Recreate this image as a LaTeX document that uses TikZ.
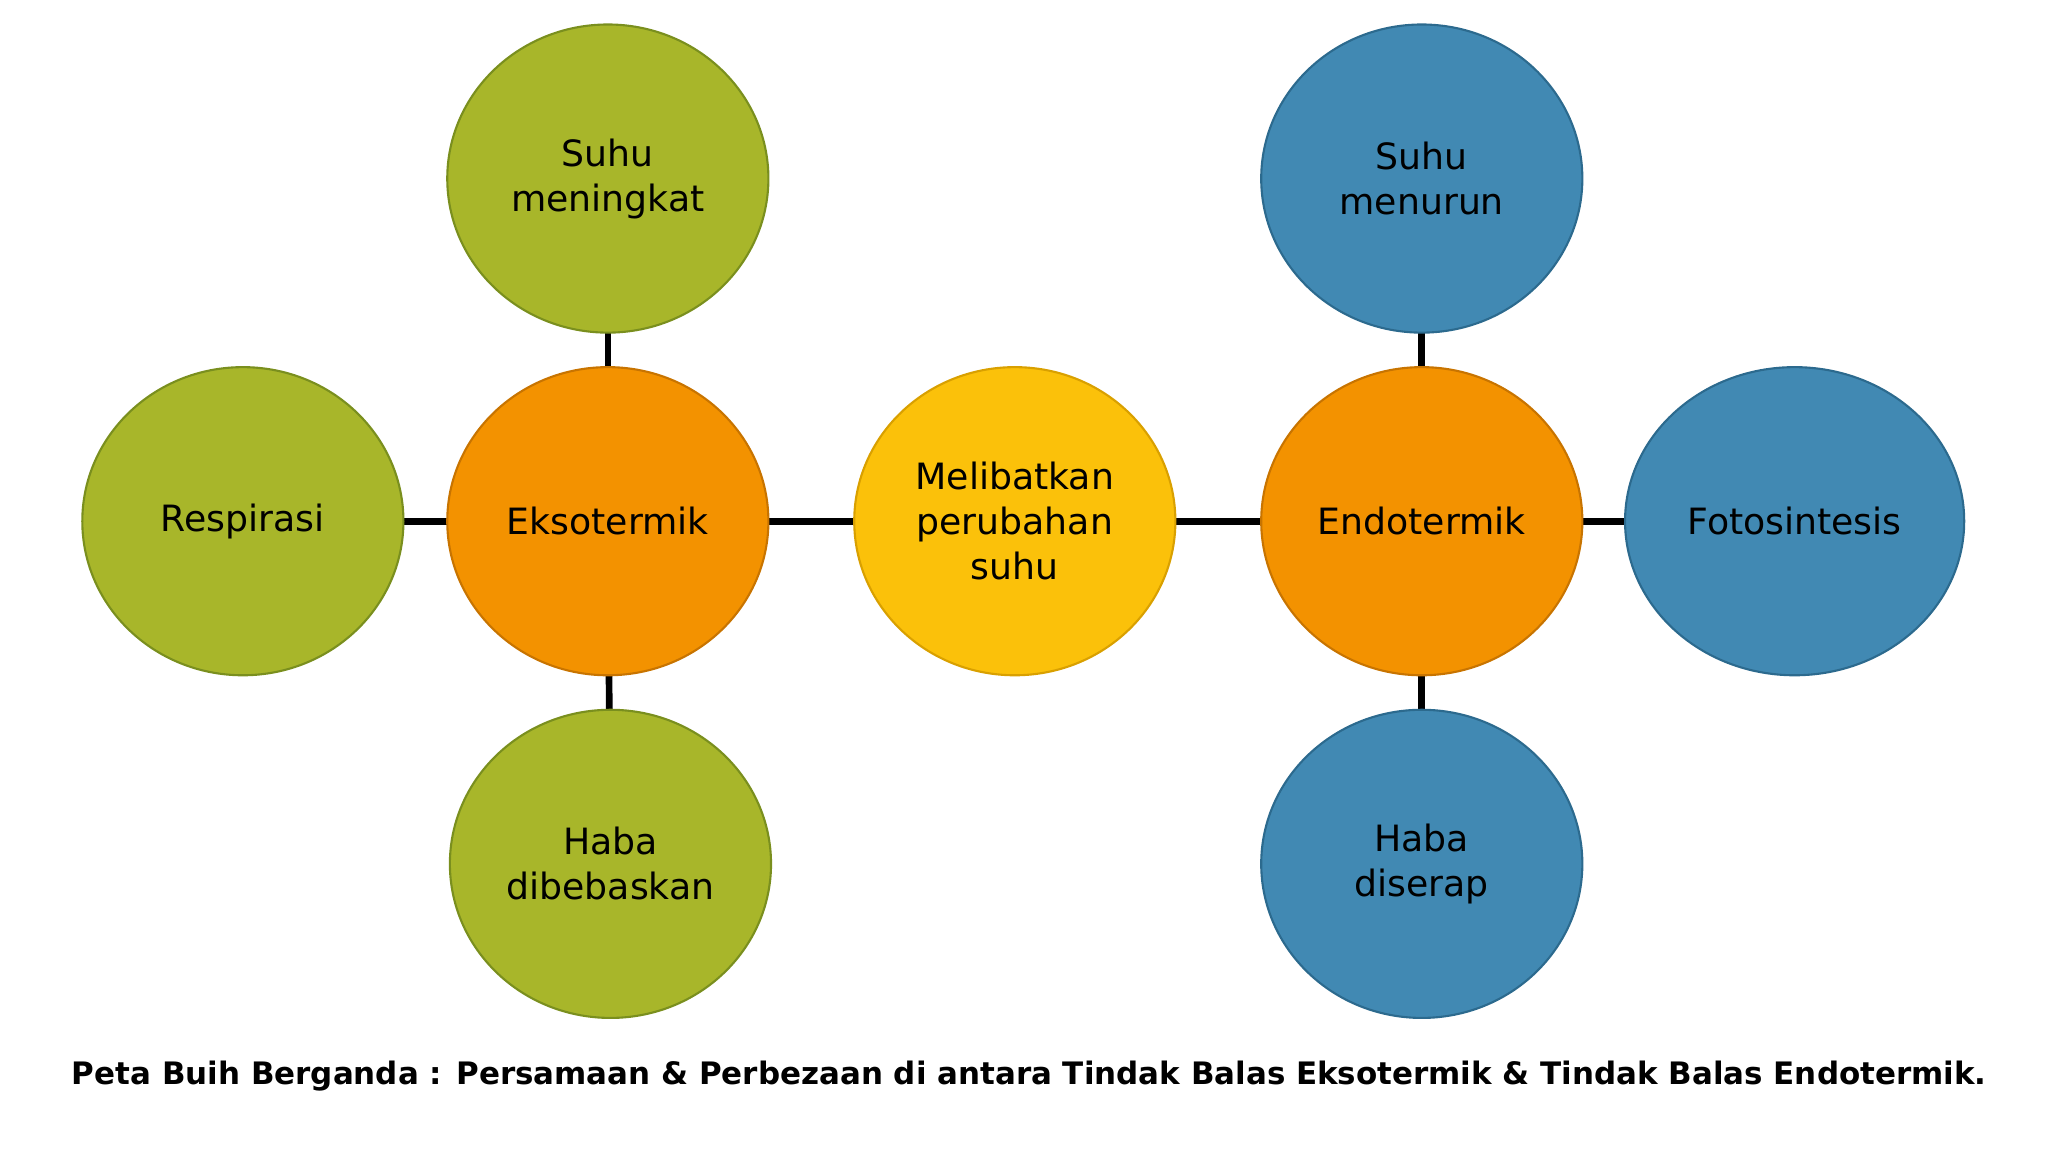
\documentclass[tikz,border=0pt]{standalone}
\usepackage{fontspec}
\setmainfont{DejaVu Sans}
\usetikzlibrary{shapes.geometric,backgrounds}
\definecolor{gfill}{HTML}{A8B62A}
\definecolor{gline}{HTML}{7A8F1E}
\definecolor{ofill}{HTML}{F39200}
\definecolor{oline}{HTML}{C87400}
\definecolor{yfill}{HTML}{FBC10A}
\definecolor{yline}{HTML}{D9A000}
\definecolor{bfill}{HTML}{4189B3}
\definecolor{bline}{HTML}{2C6A8E}
\tikzset{
  bub/.style={ellipse,minimum width=3.21cm,minimum height=3.08cm,inner sep=0pt,align=center,font=\fontsize{10.3}{12.8}\selectfont,line width=0.6pt},
  gb/.style={bub,fill=gfill,draw=gline},
  ob/.style={bub,fill=ofill,draw=oline},
  yb/.style={bub,fill=yfill,draw=yline},
  bb/.style={bub,fill=bfill,draw=bline},
  link/.style={line width=1.9pt,black}
}
\begin{document}
\begin{tikzpicture}[x=0.013128cm,y=-0.013128cm]
\useasboundingbox (0,0) rectangle (1560,877.5);
\node[gb] (sm) at (463,136) {Suhu\\meningkat};
\node[gb] (re) at (185,397) {Respirasi};
\node[ob] (ek) at (463,397) {Eksotermik};
\node[gb] (hd) at (465,658) {Haba\\dibebaskan};
\node[yb] (mp) at (773,397) {Melibatkan\\perubahan\\suhu};
\node[ob] (en) at (1083,397) {Endotermik};
\node[bb] (sr) at (1083,136) {Suhu\\menurun};
\node[bb,minimum width=3.39cm] (fo) at (1367,397) {Fotosintesis};
\node[bb] (hs) at (1083,658) {Haba\\diserap};
\begin{scope}[on background layer]
\draw[link] (sm.center) -- (ek.center);
\draw[link] (re.center) -- (ek.center);
\draw[link] (hd.center) -- (ek.center);
\draw[link] (ek.center) -- (mp.center);
\draw[link] (mp.center) -- (en.center);
\draw[link] (sr.center) -- (en.center);
\draw[link] (fo.center) -- (en.center);
\draw[link] (hs.center) -- (en.center);
\end{scope}
\node[font=\bfseries\fontsize{8.8}{10}\selectfont] (cap) at (784,820) {Peta Buih Berganda : Persamaan \& Perbezaan di antara Tindak Balas Eksotermik \& Tindak Balas Endotermik.};
\end{tikzpicture}
\end{document}
